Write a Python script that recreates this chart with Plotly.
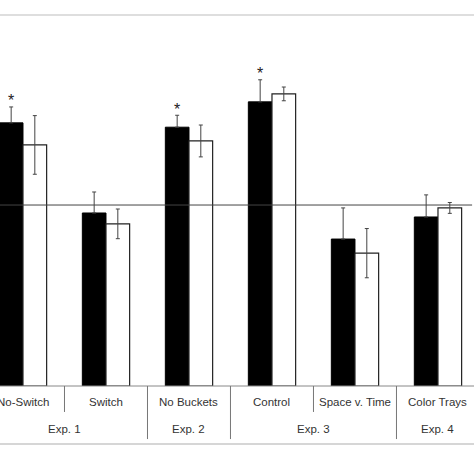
import plotly.graph_objects as go

conditions = ["No-Switch", "Switch", "No Buckets", "Control", "Space v. Time", "Color Trays"]
experiments = ["Exp. 1", "Exp. 2", "Exp. 3", "Exp. 4"]
exp_spans = [(0, 1), (2, 2), (3, 4), (5, 5)]
black_vals = [0.727, 0.478, 0.715, 0.785, 0.406, 0.467]
black_err = [0.044, 0.058, 0.033, 0.061, 0.086, 0.061]
white_vals = [0.666, 0.448, 0.677, 0.807, 0.367, 0.492]
white_err = [0.081, 0.041, 0.044, 0.019, 0.068, 0.015]
significant = [True, False, True, True, False, False]
chance = 0.5

xs = list(range(len(conditions)))

fig = go.Figure()
fig.add_trace(go.Bar(
    x=xs, y=black_vals, marker=dict(color="black", line=dict(color="black", width=1)),
    error_y=dict(type="data", array=black_err, arrayminus=[0] * len(xs), symmetric=False,
                 color="#444", thickness=1, width=2),
    showlegend=False))
fig.add_trace(go.Bar(
    x=xs, y=white_vals, marker=dict(color="white", line=dict(color="#222", width=1.2)),
    error_y=dict(type="data", array=white_err, color="#444", thickness=1, width=2),
    showlegend=False))

fig.update_layout(
    barmode="group", bargap=0.43, bargroupgap=0,
    width=474, height=474,
    margin=dict(l=0, r=0, t=15, b=88),
    plot_bgcolor="white", paper_bgcolor="white",
    xaxis=dict(range=[-0.277, 5.434], showticklabels=False, showgrid=False, zeroline=False,
               showline=False, ticks=""),
    yaxis=dict(range=[0, 1.025], showticklabels=False, showgrid=False, zeroline=False,
               showline=False, ticks=""),
    font=dict(family="Liberation Sans, Arial, sans-serif"),
)

# chance line
fig.add_shape(type="line", xref="paper", yref="y", x0=0, x1=0.996, y0=chance, y1=chance,
              line=dict(color="#444", width=1), layer="above")
# top frame line
fig.add_shape(type="line", xref="paper", yref="paper", x0=0, x1=1, y0=1, y1=1,
              line=dict(color="#dedede", width=2))
# baseline
fig.add_shape(type="line", xref="paper", yref="paper", x0=0, x1=1, y0=0, y1=0,
              line=dict(color="#888", width=1))
# bottom line
fig.add_shape(type="line", xref="paper", yref="paper", x0=0, x1=1, y0=-0.156, y1=-0.156,
              line=dict(color="#c8c8c8", width=1.5))

exp_bounds = set(s for s, e in exp_spans)
for i in range(1, len(conditions)):
    bottom = -0.143 if i in exp_bounds else -0.070
    fig.add_shape(type="line", xref="x", yref="paper", x0=i - 0.5, x1=i - 0.5, y0=0, y1=bottom,
                  line=dict(color="#777", width=1))

for i, name in enumerate(conditions):
    fig.add_annotation(x=i, y=-0.0431, xref="x", yref="paper", text=name, showarrow=False,
                       font=dict(size=11.5, color="#333"), yanchor="middle")
for name, (s, e) in zip(experiments, exp_spans):
    fig.add_annotation(x=(s + e) / 2, y=-0.116, xref="x", yref="paper", text=name, showarrow=False,
                       font=dict(size=11.5, color="#333"), yanchor="middle")

for i, sig in enumerate(significant):
    if sig:
        fig.add_annotation(x=i - 0.143, y=black_vals[i] + black_err[i], xref="x", yref="y",
                           text="*", showarrow=False, yanchor="middle", yshift=6,
                           font=dict(size=16, color="#222"))

fig.write_html("out.html")
